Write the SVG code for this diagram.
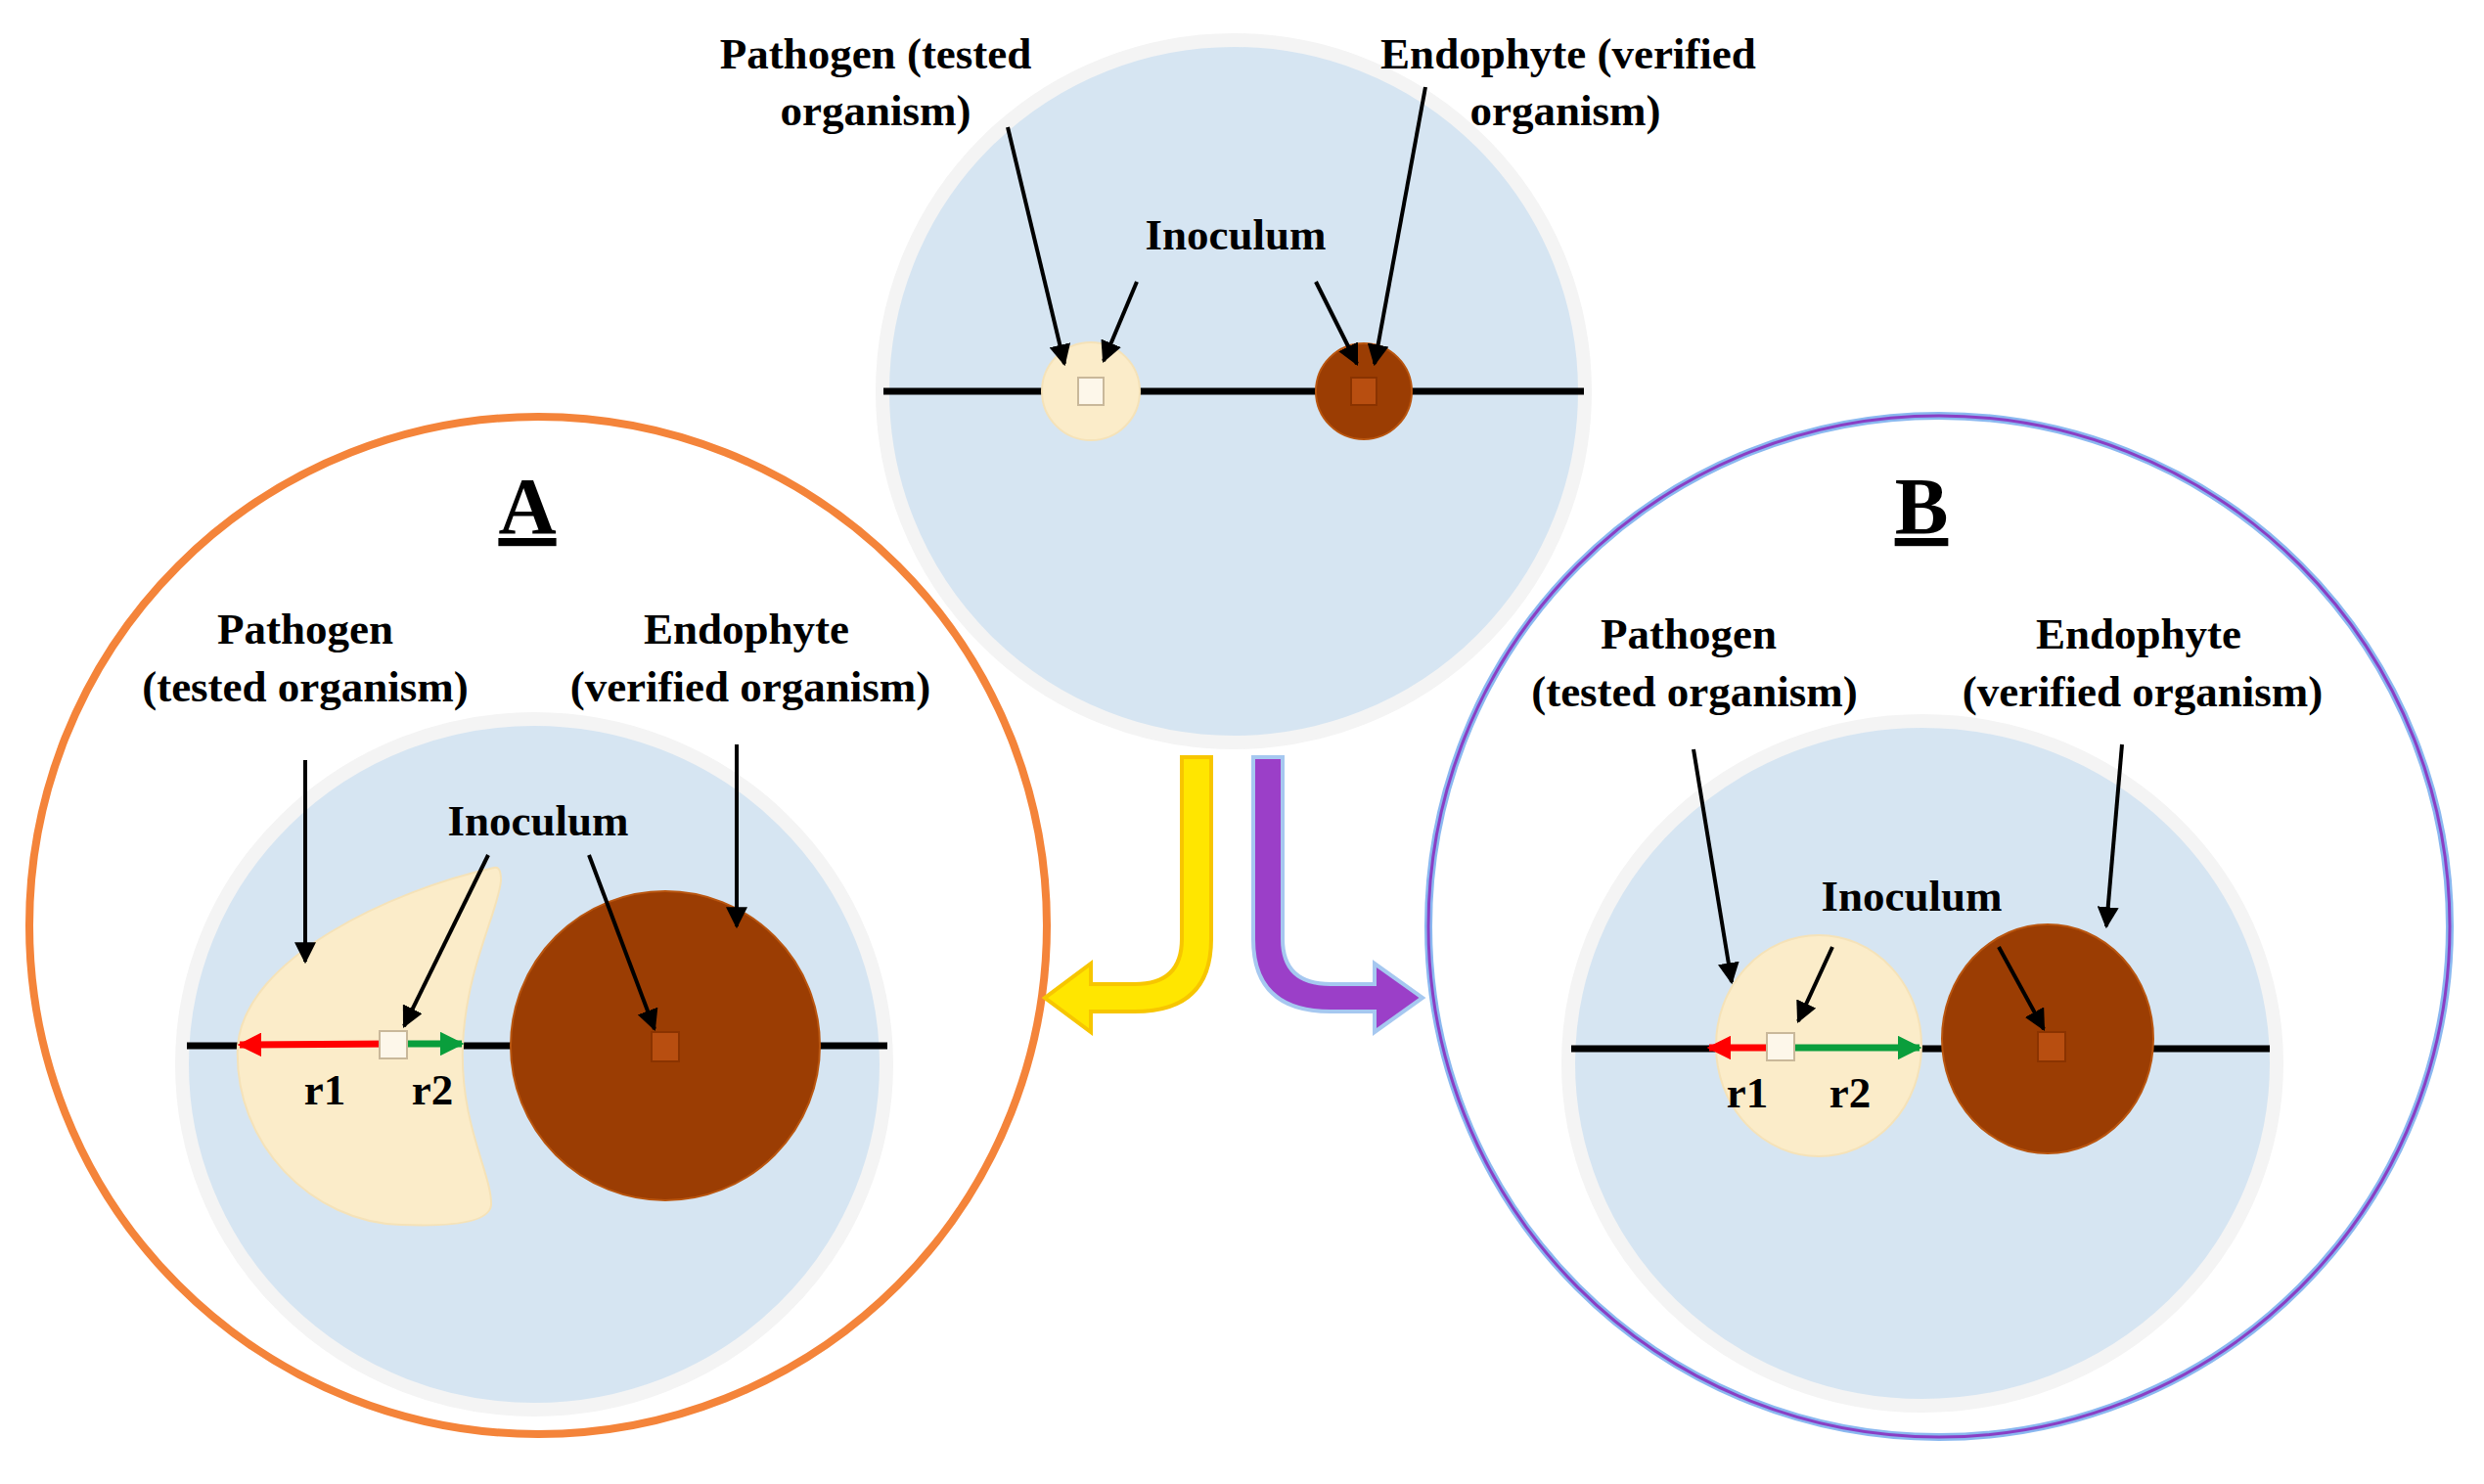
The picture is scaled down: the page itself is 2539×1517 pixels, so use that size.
<svg xmlns="http://www.w3.org/2000/svg" width="2539" height="1517" viewBox="0 0 2539 1517">
<defs>
<style>
text{font-family:"Liberation Serif","Times New Roman",serif;font-weight:bold;fill:#000;text-anchor:middle}
.lbl{font-size:45px}
.big{font-size:82px;text-decoration:underline}
.dish{fill:#d6e5f2;stroke:#f4f4f4;stroke-width:14}
.axis{stroke:#000;stroke-width:7}
.ptr{stroke:#000;stroke-width:4;fill:none;marker-end:url(#ah)}
.path{fill:#fbecc9;stroke:#f5e2b8;stroke-width:2}
.endo{fill:#9b3d03;stroke:#b9550f;stroke-width:2}
.sqp{fill:#fdf7ea;stroke:#c9b89a;stroke-width:2}
.sqe{fill:#b84e10;stroke:#8a3300;stroke-width:2}
</style>
<marker id="ah" viewBox="0 0 10 10" refX="9" refY="5" markerWidth="5.5" markerHeight="5.5" orient="auto"><path d="M0,0 L10,5 L0,10 Z" fill="#000"/></marker>
<marker id="ahr" viewBox="0 0 10 10" refX="9" refY="5" markerWidth="3.5" markerHeight="3.5" orient="auto"><path d="M0,0 L10,5 L0,10 Z" fill="#f00"/></marker>
<marker id="ahg" viewBox="0 0 10 10" refX="9" refY="5" markerWidth="3.5" markerHeight="3.5" orient="auto"><path d="M0,0 L10,5 L0,10 Z" fill="#0a9e3c"/></marker>
</defs>

<g id="plateA">
<circle cx="550" cy="946" r="520" fill="#fff" stroke="#f4843a" stroke-width="8"/>
<ellipse class="dish" cx="546" cy="1088" rx="360" ry="353"/>
<line class="axis" x1="191" y1="1069" x2="907" y2="1069"/>
<path class="path" d="M505,887 C400,910 250,980 243,1069 C238,1170 320,1250 410,1252 C460,1254 500,1250 502,1232 C503,1200 470,1150 473,1069 C476,990 510,930 512,900 C512,890 510,886 505,887 Z"/>
<circle class="endo" cx="680" cy="1069" r="158"/>
<rect class="sqe" x="666" y="1055" width="28" height="30"/>
<line x1="401" y1="1067" x2="245" y2="1068" stroke="#f00" stroke-width="7" marker-end="url(#ahr)"/>
<line x1="405" y1="1067" x2="472" y2="1067" stroke="#0a9e3c" stroke-width="7" marker-end="url(#ahg)"/>
<rect class="sqp" x="388" y="1054" width="28" height="28"/>
<text x="539" y="545" class="big">A</text>
<text x="312" y="658" class="lbl">Pathogen</text>
<text x="312" y="717" class="lbl">(tested organism)</text>
<text x="763" y="658" class="lbl">Endophyte</text>
<text x="767" y="717" class="lbl">(verified organism)</text>
<text x="550" y="854" class="lbl">Inoculum</text>
<text x="332" y="1129" class="lbl">r1</text>
<text x="442" y="1129" class="lbl">r2</text>
</g>

<g id="plateB">
<circle cx="1982" cy="947" r="522" fill="#fff" stroke="#8ab8f0" stroke-width="8"/>
<circle cx="1982" cy="947" r="522" fill="none" stroke="#8a3fc4" stroke-width="3"/>
<ellipse class="dish" cx="1965" cy="1087" rx="362" ry="350"/>
<line class="axis" x1="1606" y1="1072" x2="2320" y2="1072"/>
<ellipse class="path" cx="1859" cy="1069" rx="105" ry="113"/>
<ellipse class="endo" cx="2093" cy="1062" rx="108" ry="117"/>
<rect class="sqe" x="2083" y="1055" width="28" height="30"/>
<line x1="1820" y1="1071" x2="1747" y2="1071" stroke="#f00" stroke-width="7" marker-end="url(#ahr)"/>
<line x1="1822" y1="1071" x2="1962" y2="1071" stroke="#0a9e3c" stroke-width="7" marker-end="url(#ahg)"/>
<rect class="sqp" x="1806" y="1056" width="28" height="28"/>
<text x="1964" y="545" class="big">B</text>
<text x="1726" y="663" class="lbl">Pathogen</text>
<text x="1732" y="722" class="lbl">(tested organism)</text>
<text x="2186" y="663" class="lbl">Endophyte</text>
<text x="2190" y="722" class="lbl">(verified organism)</text>
<text x="1954" y="931" class="lbl">Inoculum</text>
<text x="1786" y="1132" class="lbl">r1</text>
<text x="1891" y="1132" class="lbl">r2</text>
</g>

<g id="plateTop">
<circle cx="1261" cy="400" r="359" class="dish"/>
<line class="axis" x1="903" y1="400" x2="1619" y2="400"/>
<circle class="path" cx="1115" cy="400" r="50"/>
<circle class="endo" cx="1394" cy="400" r="49"/>
<rect class="sqp" x="1102" y="386" width="26" height="28"/>
<rect class="sqe" x="1381" y="386" width="26" height="28"/>
<text x="895" y="70" class="lbl">Pathogen (tested</text>
<text x="895" y="128" class="lbl">organism)</text>
<text x="1603" y="70" class="lbl">Endophyte (verified</text>
<text x="1600" y="128" class="lbl">organism)</text>
<text x="1263" y="255" class="lbl">Inoculum</text>
</g>

<g id="bigArrows">
<path d="M1208,774 L1238,774 L1238,960 Q1238,1034 1160,1034 L1115,1034 L1115,1055 L1068,1020 L1115,985 L1115,1006 L1160,1006 Q1208,1006 1208,960 Z" fill="#ffe600" stroke="#f7c600" stroke-width="4"/>
<path d="M1281,774 L1311,774 L1311,960 Q1311,1006 1360,1006 L1405,1006 L1405,985 L1454,1020 L1405,1055 L1405,1034 L1360,1034 Q1281,1034 1281,960 Z" fill="#9b3fc8" stroke="#a6c8f0" stroke-width="4"/>
</g>

<g id="connectors">
<line class="ptr" x1="1030" y1="130" x2="1088" y2="372"/>
<line class="ptr" x1="1162" y1="288" x2="1128" y2="369"/>
<line class="ptr" x1="1345" y1="288" x2="1387" y2="372"/>
<line class="ptr" x1="1457" y1="89" x2="1405" y2="372"/>
<line class="ptr" x1="312" y1="777" x2="312" y2="983"/>
<line class="ptr" x1="499" y1="874" x2="413" y2="1049"/>
<line class="ptr" x1="602" y1="874" x2="669" y2="1052"/>
<line class="ptr" x1="753" y1="761" x2="753" y2="947"/>
<line class="ptr" x1="1731" y1="766" x2="1770" y2="1004"/>
<line class="ptr" x1="1873" y1="968" x2="1838" y2="1044"/>
<line class="ptr" x1="2043" y1="968" x2="2089" y2="1052"/>
<line class="ptr" x1="2169" y1="761" x2="2153" y2="947"/>
</g>
</svg>
